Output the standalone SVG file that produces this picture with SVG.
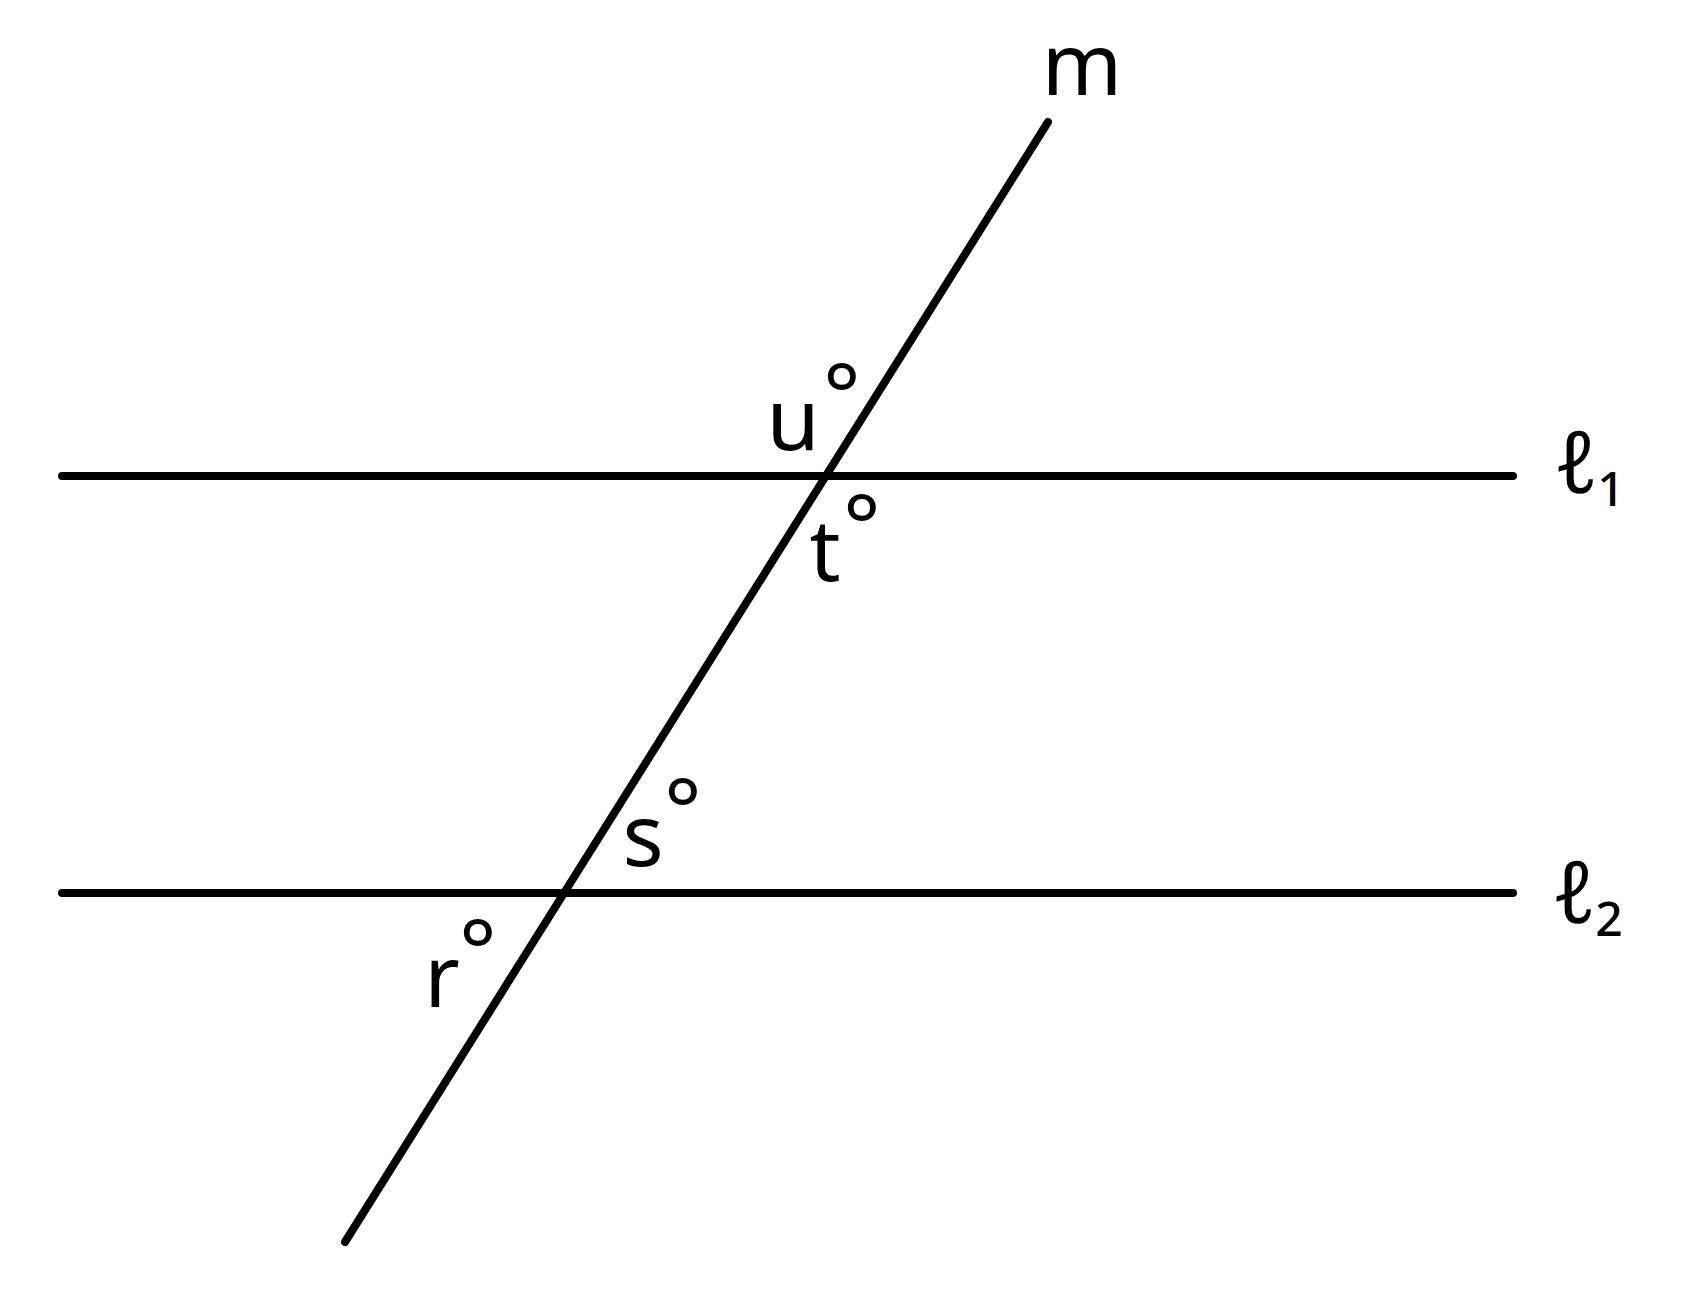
<svg xmlns="http://www.w3.org/2000/svg" width="1707" height="1301" viewBox="0 0 1707 1301">
<style>
.ln{stroke:#000;stroke-width:8;stroke-linecap:round;fill:none}
.lb{font-family:"Noto Sans","DejaVu Sans",sans-serif;font-size:86px;fill:#000;text-anchor:middle}
.dg{font-family:"Noto Sans","DejaVu Sans",sans-serif;font-size:88px;fill:#000}
.ell{font-family:"Noto Sans","DejaVu Sans",sans-serif;font-size:86px;fill:#000;text-anchor:middle}
.sub{font-family:"Noto Sans","DejaVu Sans",sans-serif;font-size:48px;font-weight:500;fill:#000;text-anchor:middle}
</style>
<rect width="1707" height="1301" fill="#fff"/>
<g id="connectors">
<line id="l1" class="ln" x1="62" y1="476" x2="1513" y2="476"/>
<line id="l2" class="ln" x1="62" y1="893" x2="1513" y2="893"/>
<line id="m" class="ln" x1="1048" y1="122" x2="345" y2="1242"/>
</g>
<g id="label-m"><text class="lb" x="1082" y="95">m</text></g>
<g id="label-l1"><text class="ell" x="1576" y="493">ℓ</text><text class="sub" x="1611" y="506">1</text></g>
<g id="label-l2"><text class="ell" x="1574" y="923">ℓ</text><text class="sub" x="1609" y="936">2</text></g>
<g id="angle-u"><text class="lb" x="793" y="450">u</text><text class="dg" x="823" y="427">°</text></g>
<g id="angle-t"><text class="lb" x="825" y="581">t</text><text class="dg" x="843" y="558">°</text></g>
<g id="angle-s"><text class="lb" x="643" y="866">s</text><text class="dg" x="664" y="842">°</text></g>
<g id="angle-r"><text class="lb" x="442" y="1007">r</text><text class="dg" x="459" y="983">°</text></g>
</svg>
